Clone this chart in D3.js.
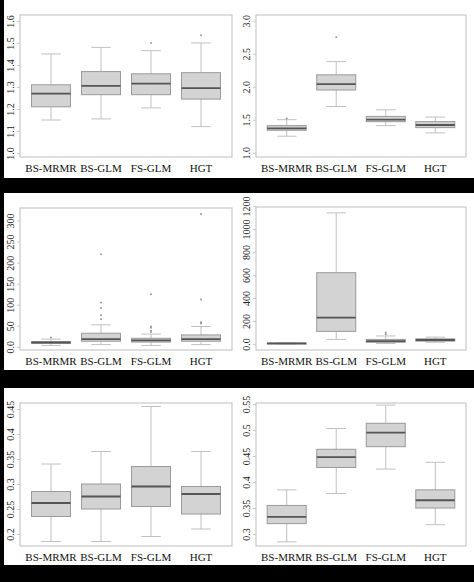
<!DOCTYPE html>
<html><head><meta charset="UTF-8">
<script src="https://cdn.jsdelivr.net/npm/d3@7"></script>
<style>body{margin:0;background:#000}svg{display:block}</style>
</head><body><svg width="474" height="582"></svg>
<script>
const categories = ["BS-MRMR", "BS-GLM", "FS-GLM", "HGT"];
// each stat: [whiskerLow, q1, median, q3, whiskerHigh]
const p1Stats = [[1.15,1.21,1.27,1.31,1.45],[1.155,1.265,1.305,1.37,1.48],[1.205,1.265,1.315,1.36,1.465],[1.12,1.245,1.295,1.365,1.50]];
const p1Out = [[],[],[1.50],[1.535]];
const p2Stats = [[1.25,1.34,1.37,1.41,1.50],[1.70,1.95,2.04,2.18,2.38],[1.41,1.47,1.50,1.55,1.65],[1.30,1.38,1.42,1.47,1.54]];
const p2Out = [[1.52],[2.75],[],[]];
const p3Stats = [[3,8,10,12,18],[5,13,18,32,52],[3,11,15,20,30],[5,13,18,28,48]];
const p3Out = [[22],[65,75,92,105,220],[35,38,45,48,125],[55,58,112,316]];
const p4Stats = [[0,2,5,8,10],[40,110,230,620,1140],[5,15,25,40,70],[15,25,35,45,60]];
const p4Out = [[],[],[85,100],[]];
const p5Stats = [[0.185,0.235,0.262,0.285,0.34],[0.185,0.25,0.275,0.30,0.365],[0.195,0.255,0.295,0.335,0.455],[0.21,0.24,0.28,0.295,0.365]];
const p5Out = [[],[],[],[]];
const p6Stats = [[0.285,0.32,0.333,0.355,0.385],[0.378,0.428,0.448,0.463,0.503],[0.425,0.468,0.495,0.513,0.548],[0.318,0.35,0.365,0.385,0.438]];
const p6Out = [[],[],[],[]];
const p1Ticks = [1.0,1.1,1.2,1.3,1.4,1.5,1.6], p1Labels = ["1.0","1.1","1.2","1.3","1.4","1.5","1.6"];
const p2Ticks = [1.0,1.5,2.0,2.5,3.0], p2Labels = ["1.0","1.5","2.0","2.5","3.0"];
const p3Ticks = [0,50,100,150,200,250,300], p3Labels = ["0.0","50","100","150","200","250","300"];
const p4Ticks = [0,200,400,600,800,1000,1200], p4Labels = ["0.0","200","400","600","800","1000","1200"];
const p5Ticks = [0.2,0.25,0.3,0.35,0.4,0.45], p5Labels = ["0.2","0.25","0.3","0.35","0.4","0.45"];
const p6Ticks = [0.3,0.35,0.4,0.45,0.5,0.55], p6Labels = ["0.3","0.35","0.4","0.45","0.5","0.55"];

const svg = d3.select("svg");
const rows = [[0,178],[193,370],[388,565]];
rows.forEach(r => svg.append("rect").attr("x",4).attr("y",r[0]).attr("width",470).attr("height",r[1]-r[0]).attr("fill","#fff"));

const panels = [
  {x0:20,x1:232,y0:15,y1:157,dom:[0.982,1.627],s:p1Stats,o:p1Out,t:p1Ticks,l:p1Labels},
  {x0:256,x1:466,y0:15,y1:157,dom:[0.935,3.086],s:p2Stats,o:p2Out,t:p2Ticks,l:p2Labels},
  {x0:20,x1:232,y0:208,y1:350,dom:[-7.9,330],s:p3Stats,o:p3Out,t:p3Ticks,l:p3Labels},
  {x0:256,x1:466,y0:207,y1:350,dom:[-52,1191],s:p4Stats,o:p4Out,t:p4Ticks,l:p4Labels},
  {x0:20,x1:232,y0:403,y1:546,dom:[0.176,0.462],s:p5Stats,o:p5Out,t:p5Ticks,l:p5Labels},
  {x0:256,x1:466,y0:403,y1:546,dom:[0.277,0.552],s:p6Stats,o:p6Out,t:p6Ticks,l:p6Labels}
];
const font = "Liberation Serif, serif";
panels.forEach(p => {
  const g = svg.append("g");
  const x = d3.scalePoint().domain(categories).range([p.x0, p.x1]).padding(0.62);
  const y = d3.scaleLinear().domain(p.dom).range([p.y1, p.y0]);
  const bw = 39;
  g.append("rect").attr("x",p.x0).attr("y",p.y0).attr("width",p.x1-p.x0).attr("height",p.y1-p.y0)
    .attr("fill","none").attr("stroke","#c8c8c8").attr("stroke-width",1.2);
  categories.forEach((c,i) => {
    const [lo,q1,md,q3,hi] = p.s[i], cx = x(c);
    const w = g.append("g").attr("stroke","#c0c0c0").attr("stroke-width",1);
    w.append("line").attr("x1",cx).attr("x2",cx).attr("y1",y(lo)).attr("y2",y(q1));
    w.append("line").attr("x1",cx).attr("x2",cx).attr("y1",y(q3)).attr("y2",y(hi));
    w.append("line").attr("x1",cx-bw/4).attr("x2",cx+bw/4).attr("y1",y(lo)).attr("y2",y(lo));
    w.append("line").attr("x1",cx-bw/4).attr("x2",cx+bw/4).attr("y1",y(hi)).attr("y2",y(hi));
    g.append("rect").attr("x",cx-bw/2).attr("y",y(q3)).attr("width",bw).attr("height",Math.max(1,y(q1)-y(q3)))
      .attr("fill","#d3d3d3").attr("stroke","#9a9a9a");
    g.append("line").attr("x1",cx-bw/2).attr("x2",cx+bw/2).attr("y1",y(md)).attr("y2",y(md))
      .attr("stroke","#555").attr("stroke-width",1.8);
    g.selectAll(null).data(p.o[i]).join("circle").attr("cx",cx).attr("cy",d=>y(d)).attr("r",1)
      .attr("fill","#999");
  });
  const ax = g.append("g").attr("transform",`translate(${p.x0},0)`)
    .call(d3.axisLeft(y).tickValues(p.t).tickFormat((d,i)=>p.l[i]).tickSize(3).tickPadding(3));
  ax.select(".domain").remove();
  ax.selectAll("line").attr("stroke","#c8c8c8");
  ax.selectAll("text").attr("font-family",font).attr("font-size",10).attr("fill","#222")
    .attr("text-anchor","middle").attr("x",0).attr("dy","0.35em")
    .attr("transform","translate(-10,0) rotate(-90)");
  g.selectAll(".xl").data(categories).join("text").attr("x",d=>x(d)).attr("y",p.y1+15)
    .attr("text-anchor","middle").attr("font-family",font).attr("font-size",11).attr("fill","#111").text(d=>d);
});
</script></body></html>
